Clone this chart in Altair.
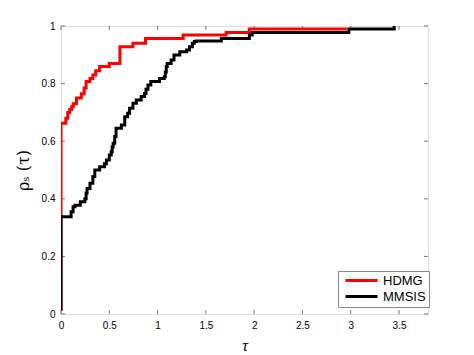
import altair as alt
import pandas as pd

# HDMG performance profile (tau, rho)
hdmg_tau = [0, 0, 0.05, 0.07, 0.09, 0.11, 0.127, 0.16, 0.21, 0.24, 0.26, 0.30, 0.33, 0.36,
            0.40, 0.50, 0.61, 0.745, 0.875, 1.265, 1.71, 1.95, 2.96]
hdmg_rho = [0.01, 0.662, 0.68, 0.70, 0.71, 0.72, 0.73, 0.75, 0.765, 0.785, 0.807, 0.818, 0.83, 0.845,
            0.859, 0.87, 0.928, 0.94, 0.957, 0.969, 0.977, 0.99, 0.99]

# MMSIS performance profile (tau, rho)
mmsis_tau = [0, 0, 0.105, 0.125, 0.145, 0.20, 0.247, 0.26, 0.27, 0.30, 0.33, 0.35, 0.40, 0.45,
             0.47, 0.50, 0.52, 0.53, 0.54, 0.556, 0.57, 0.625, 0.66, 0.69, 0.71, 0.745, 0.78,
             0.83, 0.865, 0.88, 0.90, 0.93, 1.02, 1.07, 1.08, 1.09, 1.10, 1.14, 1.17, 1.23,
             1.30, 1.33, 1.36, 1.38, 1.40, 1.66, 1.95, 1.98, 2.98, 3.45]
mmsis_rho = [0.012, 0.338, 0.355, 0.372, 0.378, 0.39, 0.40, 0.42, 0.436, 0.454, 0.477, 0.50, 0.511, 0.522,
             0.535, 0.552, 0.563, 0.58, 0.593, 0.616, 0.645, 0.656, 0.685, 0.697, 0.714, 0.732, 0.743,
             0.755, 0.766, 0.78, 0.795, 0.807, 0.818, 0.824, 0.84, 0.859, 0.87, 0.882, 0.899, 0.911,
             0.917, 0.928, 0.94, 0.946, 0.948, 0.957, 0.969, 0.977, 0.99, 1.0]

series = ["HDMG", "MMSIS"]
colors = ["#ff0000", "#000000"]

x_ticks = [0, 0.5, 1, 1.5, 2, 2.5, 3, 3.5]
y_ticks = [0, 0.2, 0.4, 0.6, 0.8, 1]

rows = []
for i, (t, r) in enumerate(zip(hdmg_tau, hdmg_rho)):
    rows.append({"series": "HDMG", "tau": t, "rho": r, "order": i})
for i, (t, r) in enumerate(zip(mmsis_tau, mmsis_rho)):
    rows.append({"series": "MMSIS", "tau": t, "rho": r, "order": i})
df = pd.DataFrame(rows)

W, H = 367, 288
FONT = "Liberation Sans"

xscale = alt.Scale(domain=[0, 3.8], nice=False)
yscale = alt.Scale(domain=[0, 1], nice=False)

lines = alt.Chart(df).mark_line(interpolate="step-after", strokeWidth=3, clip=True).encode(
    x=alt.X("tau:Q", scale=xscale,
            axis=alt.Axis(values=x_ticks, title="τ", tickSize=0, labelPadding=6, grid=False,
                          domain=False, titleFont="Liberation Serif", titleFontStyle="italic",
                          titleFontSize=16, titleFontWeight="normal", titlePadding=7,
                          labelFlush=False, format="~g")),
    y=alt.Y("rho:Q", scale=yscale,
            axis=alt.Axis(values=y_ticks, title="ρₛ (τ)", tickSize=0, labelPadding=6, grid=False,
                          domain=False, titleFont="DejaVu Serif", titleFontSize=16,
                          titleFontWeight="normal", titlePadding=10, format="~g")),
    color=alt.Color("series:N", scale=alt.Scale(domain=series, range=colors),
                    legend=alt.Legend(title=None, orient="none", legendX=277, legendY=245,
                                      symbolType="M-4,0H4", symbolSize=64, symbolStrokeWidth=3,
                                      symbolOffset=14, labelOffset=15,
                                      labelFont=FONT, labelFontSize=13, labelColor="#000",
                                      strokeColor="#888", fillColor="white", padding=3,
                                      rowPadding=2)),
    order="order:Q",
)

xt = pd.DataFrame({"v": x_ticks})
yt = pd.DataFrame({"v": y_ticks})
tick_col = "#777"
xb = alt.Chart(xt).mark_rule(color=tick_col, strokeWidth=1).encode(
    x=alt.X("v:Q", scale=xscale), y=alt.value(H), y2=alt.value(H - 4))
xtop = alt.Chart(xt).mark_rule(color=tick_col, strokeWidth=1).encode(
    x=alt.X("v:Q", scale=xscale), y=alt.value(0), y2=alt.value(4))
yl = alt.Chart(yt).mark_rule(color=tick_col, strokeWidth=1).encode(
    y=alt.Y("v:Q", scale=yscale), x=alt.value(0), x2=alt.value(4))
yr = alt.Chart(yt).mark_rule(color=tick_col, strokeWidth=1).encode(
    y=alt.Y("v:Q", scale=yscale), x=alt.value(W), x2=alt.value(W - 4))

chart = alt.layer(xb, xtop, yl, yr, lines).properties(
    width=W, height=H,
    autosize=alt.AutoSizeParams(type="none"),
    padding={"left": 61, "top": 26, "right": 474 - 61 - W, "bottom": 355 - 26 - H},
).configure_view(stroke="#888", strokeWidth=1).configure_axis(
    labelFont=FONT, labelFontSize=13, labelColor="#262626", titleColor="#262626"
).configure(background="white")

chart.save("out.html", embed_options={"renderer": "svg", "actions": False})
